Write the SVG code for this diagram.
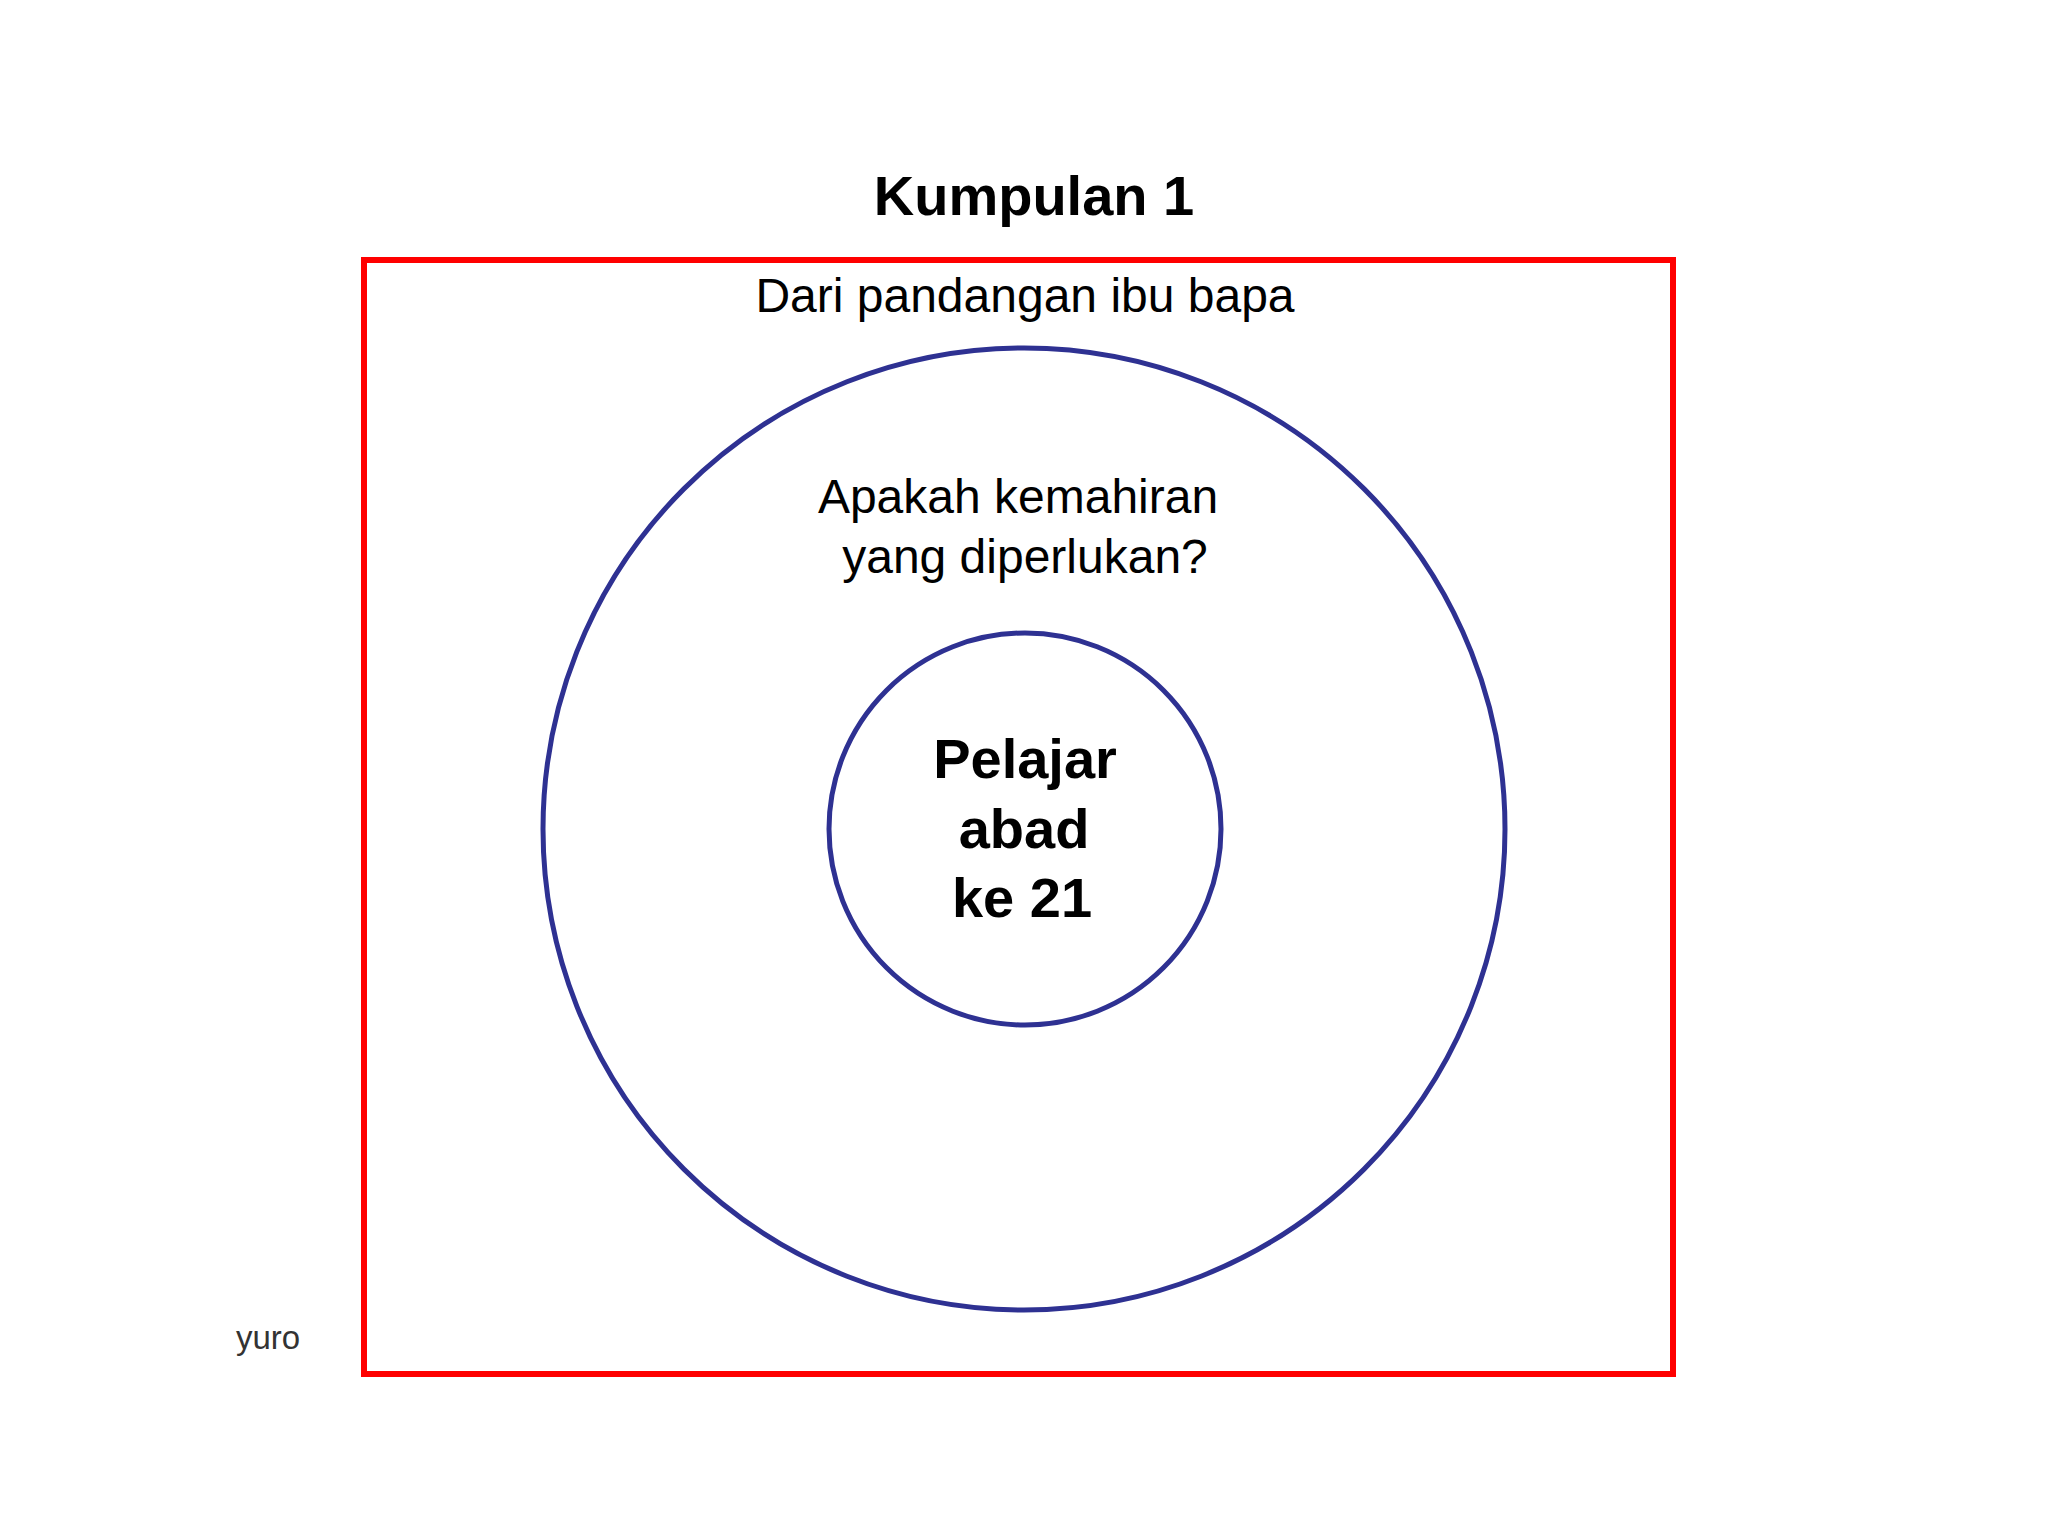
<svg xmlns="http://www.w3.org/2000/svg" width="2048" height="1536" viewBox="0 0 2048 1536">
<style>
.t{font-family:"Liberation Sans",Arial,sans-serif;fill:#000;text-anchor:middle}
.b{font-weight:bold}
.ring{fill:none;stroke:#2e3192;stroke-width:5}
</style>
<rect width="2048" height="1536" fill="#fff"/>
<text class="t b" x="1034" y="215" font-size="56">Kumpulan 1</text>
<g id="frame">
<rect x="364" y="260" width="1309" height="1114" fill="none" stroke="#ff0000" stroke-width="6"/>
<text class="t" x="1025" y="312" font-size="48">Dari pandangan ibu bapa</text>
</g>
<g id="outer">
<circle class="ring" cx="1024" cy="829" r="481"/>
<text class="t" x="1018" y="513" font-size="48">Apakah kemahiran</text>
<text class="t" x="1025" y="573" font-size="48">yang diperlukan?</text>
</g>
<g id="inner">
<circle class="ring" cx="1025" cy="829" r="196"/>
<text class="t b" x="1025" y="778" font-size="56">Pelajar</text>
<text class="t b" x="1024" y="848" font-size="56">abad</text>
<text class="t b" x="1022" y="917" font-size="56">ke 21</text>
</g>
<g id="connectors"></g>
<text x="268" y="1349" font-family="Liberation Sans,Arial,sans-serif" font-size="33" fill="#333" text-anchor="middle">yuro</text>
</svg>
